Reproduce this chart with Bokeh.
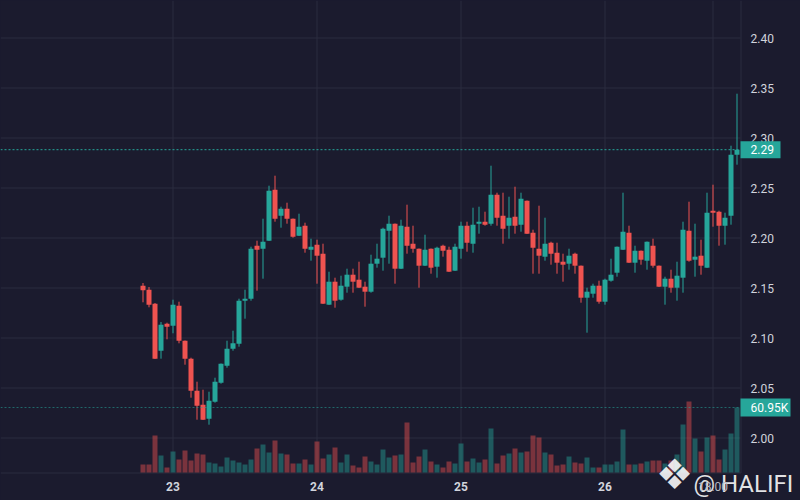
from bokeh.plotting import figure
from bokeh.models import Range1d, ColumnDataSource
from bokeh.core.properties import value
from bokeh.embed import file_html
from bokeh.resources import INLINE

# ---- data (hourly candles, hour 0 = day 23 00:00) ----
hours = list(range(-5, 95))

opens = [
    2.1523, 2.1483, 2.1343, 2.0873, 2.1143, 2.1123, 2.1323, 2.0973, 2.0793, 2.0473,
    2.0333, 2.0193, 2.0363, 2.0553, 2.0723, 2.0893, 2.0943, 2.1373, 2.1393, 2.1923,
    2.1893, 2.1973, 2.2483, 2.2223, 2.2293, 2.2193, 2.2023, 2.2123, 2.1883, 2.1933,
    2.1843, 2.1333, 2.1563, 2.1383, 2.1513, 2.1633, 2.1583, 2.1513, 2.1463, 2.1743,
    2.1803, 2.2073, 2.2143, 2.1693, 2.2113, 2.1943, 2.1893, 2.1723, 2.1893, 2.1713,
    2.1923, 2.1883, 2.1673, 2.1893, 2.2123, 2.1943, 2.2143, 2.2163, 2.2143, 2.2433,
    2.2223, 2.2123, 2.2213, 2.2133, 2.2373, 2.2053, 2.1893, 2.1813, 2.1953, 2.1853,
    2.1763, 2.1743, 2.1843, 2.1723, 2.1403, 2.1443, 2.1523, 2.1363, 2.1573, 2.1653,
    2.1883, 2.2053, 2.1753, 2.1873, 2.1773, 2.1923, 2.1723, 2.1513, 2.1593, 2.1503,
    2.1603, 2.2073, 2.1783, 2.1823, 2.1703, 2.2273, 2.2263, 2.2123, 2.2223, 2.2833,
]
closes = [
    2.1477, 2.1333, 2.0793, 2.1133, 2.1113, 2.1333, 2.0973, 2.0793, 2.0473, 2.0323,
    2.0183, 2.0373, 2.0563, 2.0743, 2.0893, 2.0947, 2.1373, 2.1393, 2.1893, 2.1883,
    2.1963, 2.2473, 2.2193, 2.2293, 2.2193, 2.2013, 2.2113, 2.1893, 2.1913, 2.1823,
    2.1343, 2.1563, 2.1373, 2.1523, 2.1633, 2.1563, 2.1503, 2.1463, 2.1743, 2.1793,
    2.2093, 2.2143, 2.1693, 2.2123, 2.1923, 2.1893, 2.1723, 2.1883, 2.1703, 2.1903,
    2.1873, 2.1663, 2.1913, 2.2123, 2.1953, 2.2133, 2.2163, 2.2133, 2.2433, 2.2203,
    2.2093, 2.2203, 2.2123, 2.2393, 2.2043, 2.1903, 2.1823, 2.1943, 2.1843, 2.1753,
    2.1733, 2.1823, 2.1723, 2.1403, 2.1463, 2.1523, 2.1363, 2.1583, 2.1633, 2.1913,
    2.2063, 2.1753, 2.1873, 2.1783, 2.1963, 2.1723, 2.1513, 2.1593, 2.1503, 2.1623,
    2.2083, 2.1773, 2.1813, 2.1723, 2.2253, 2.2253, 2.2123, 2.2203, 2.2833, 2.2883,
]
highs = [
    2.1550, 2.1510, 2.1350, 2.1160, 2.1153, 2.1383, 2.1363, 2.0975, 2.0803, 2.0563,
    2.0483, 2.0463, 2.0603, 2.0745, 2.0973, 2.1073, 2.1393, 2.1483, 2.1913, 2.1973,
    2.2193, 2.2523, 2.2623, 2.2313, 2.2353, 2.2195, 2.2243, 2.2153, 2.1993, 2.1983,
    2.1943, 2.1663, 2.1603, 2.1623, 2.1693, 2.1693, 2.1763, 2.1563, 2.1833, 2.1943,
    2.2103, 2.2223, 2.2145, 2.2183, 2.2333, 2.2123, 2.1895, 2.2033, 2.1895, 2.1913,
    2.1933, 2.1913, 2.1943, 2.2163, 2.2163, 2.2303, 2.2313, 2.2263, 2.2723, 2.2453,
    2.2453, 2.2413, 2.2513, 2.2453, 2.2375, 2.2083, 2.2323, 2.2203, 2.1963, 2.1953,
    2.1843, 2.1893, 2.1853, 2.1725, 2.1503, 2.1543, 2.1573, 2.1593, 2.1793, 2.1915,
    2.2453, 2.2123, 2.1923, 2.1875, 2.1965, 2.1993, 2.1725, 2.1613, 2.1683, 2.1763,
    2.2163, 2.2363, 2.2143, 2.1983, 2.2453, 2.2533, 2.2273, 2.2253, 2.2923, 2.3443,
]
lows = [
    2.1357, 2.1307, 2.0790, 2.0793, 2.0987, 2.1047, 2.0947, 2.0733, 2.0403, 2.0183,
    2.0180, 2.0133, 2.0353, 2.0543, 2.0703, 2.0873, 2.0913, 2.1193, 2.1373, 2.1473,
    2.1593, 2.1970, 2.2163, 2.2103, 2.2143, 2.2003, 2.2020, 2.1853, 2.1773, 2.1543,
    2.1340, 2.1330, 2.1303, 2.1373, 2.1453, 2.1453, 2.1500, 2.1313, 2.1453, 2.1703,
    2.1673, 2.1743, 2.1543, 2.1690, 2.1843, 2.1853, 2.1503, 2.1720, 2.1643, 2.1603,
    2.1813, 2.1660, 2.1670, 2.1793, 2.1863, 2.1853, 2.2043, 2.2123, 2.2123, 2.2123,
    2.1943, 2.1993, 2.2043, 2.2063, 2.2040, 2.1643, 2.1643, 2.1773, 2.1733, 2.1643,
    2.1563, 2.1683, 2.1643, 2.1353, 2.1053, 2.1403, 2.1343, 2.1333, 2.1563, 2.1613,
    2.1880, 2.1750, 2.1653, 2.1733, 2.1683, 2.1703, 2.1510, 2.1333, 2.1453, 2.1373,
    2.1453, 2.1763, 2.1613, 2.1633, 2.1700, 2.2113, 2.1923, 2.1933, 2.2133, 2.2733,
]
volumes_k = [
    7.50, 7.50, 34.69, 15.94, 4.69, 19.69, 12.19, 20.63, 11.25, 17.82,
    16.88, 9.38, 8.44, 5.63, 14.07, 11.25, 9.38, 7.50, 12.19, 22.50,
    26.26, 18.75, 30.01, 17.82, 16.88, 8.44, 8.44, 12.19, 7.50, 29.07,
    13.13, 16.88, 23.44, 9.38, 16.88, 6.56, 4.69, 15.00, 10.31, 7.50,
    21.57, 14.07, 15.94, 16.88, 46.89, 9.38, 15.00, 21.57, 10.31, 7.50,
    4.69, 10.31, 8.44, 27.19, 10.31, 13.13, 9.38, 12.19, 41.26, 8.44,
    15.94, 17.82, 22.50, 18.75, 19.69, 34.69, 32.82, 18.75, 16.88, 6.56,
    7.50, 15.00, 9.38, 8.44, 14.07, 4.69, 4.69, 7.50, 7.50, 10.31,
    40.32, 7.50, 7.50, 8.44, 10.31, 11.25, 11.25, 8.44, 11.25, 16.88,
    45.01, 66.58, 31.88, 19.69, 32.82, 34.69, 12.19, 21.57, 36.57, 60.95,
]
day_ticks = [0, 24, 48, 72]
day_labels = ["23", "24", "25", "26"]
time_ticks = [90]
time_labels = ["18:00"]
price_ticks = [2.00, 2.05, 2.10, 2.15, 2.20, 2.25, 2.30, 2.35, 2.40]
watermark = "@ HALIFI"
logo = "\u2756"

# ---- style / layout (page pixels; the figure sits at the page's top-left) ----
BG = "#1b1b2e"
GRID = "#2b2c3f"
UP = "#26a69a"
DOWN = "#ef5350"
TXT = "#d1d4dc"
FONT = "Roboto"
W, H, M = 800, 500, 0
PANE_RIGHT = 740      # page x of the price-scale border
PANE_BOTTOM = 472     # page y of the time-scale border
PX_PER_HOUR = 6.0
X0_PAGE = 172.5       # page x of hour 0
PX_PER_UNIT = 1000.0
Y240_PAGE = 37.5      # page y of price 2.40
VOL_PX = 65.0 / 60.95  # pixels per 1K volume

x_start = (M - X0_PAGE) / PX_PER_HOUR
x_end = (M + W - X0_PAGE) / PX_PER_HOUR
y_top = 2.40 + (Y240_PAGE - M) / PX_PER_UNIT
y_bot = 2.40 - (M + H - Y240_PAGE) / PX_PER_UNIT
v_bot = -(M + H - PANE_BOTTOM) / VOL_PX
v_top = (PANE_BOTTOM - M) / VOL_PX
pane_bottom_price = 2.40 - (PANE_BOTTOM - Y240_PAGE) / PX_PER_UNIT

colors = [UP if c >= o else DOWN for o, c in zip(opens, closes)]
src = ColumnDataSource(dict(
    x=hours, o=opens, h=highs, l=lows, c=closes,
    top=[max(o, c) for o, c in zip(opens, closes)],
    bottom=[min(o, c) for o, c in zip(opens, closes)],
    color=colors, vol=volumes_k,
))

p = figure(width=W, height=H,
           x_range=Range1d(x_start, x_end), y_range=Range1d(y_bot, y_top),
           x_axis_location=None, y_axis_location=None,
           output_backend="svg", toolbar_location=None,
           min_border=0, background_fill_color=BG, border_fill_color=BG,
           outline_line_color=None)
p.grid.visible = False
p.extra_y_ranges = {"vol": Range1d(v_bot, v_top), "py": Range1d(M + H, M)}
p.extra_x_ranges = {"px": Range1d(M, M + W)}

# grid lines (pane only)
gx = day_ticks + time_ticks
p.segment(x0=gx, x1=gx, y0=[pane_bottom_price] * len(gx), y1=[y_top] * len(gx),
          line_color=GRID, line_width=1)
p.segment(x0=[M] * len(price_ticks), x1=[PANE_RIGHT] * len(price_ticks),
          y0=price_ticks, y1=price_ticks, line_color=GRID, line_width=1,
          x_range_name="px")
# scale borders
p.segment(x0=[M], x1=[PANE_RIGHT + 0.5], y0=[PANE_BOTTOM + 0.5], y1=[PANE_BOTTOM + 0.5],
          line_color=GRID, line_width=1, x_range_name="px", y_range_name="py")
p.segment(x0=[PANE_RIGHT + 0.5], x1=[PANE_RIGHT + 0.5], y0=[M], y1=[PANE_BOTTOM + 0.5],
          line_color=GRID, line_width=1, x_range_name="px", y_range_name="py")

# volume
p.vbar(x="x", width=5 / PX_PER_HOUR, top="vol", bottom=0, fill_color="color",
       fill_alpha=0.45, line_color=None, y_range_name="vol", source=src)
# candles
p.segment(x0="x", y0="l", x1="x", y1="h", line_color="color", line_width=1, source=src)
p.vbar(x="x", width=5 / PX_PER_HOUR, top="top", bottom="bottom", fill_color="color",
       line_color=None, source=src)

# last price / last volume dashed lines
last_close = closes[-1]
last_vol = volumes_k[-1]
p.segment(x0=[M], x1=[PANE_RIGHT], y0=[last_close], y1=[last_close], line_color=UP,
          line_dash="2 2", line_width=1, x_range_name="px")
p.segment(x0=[M], x1=[PANE_RIGHT], y0=[last_vol], y1=[last_vol], line_color=UP,
          line_alpha=0.55, line_dash="2 2", line_width=1, x_range_name="px",
          y_range_name="vol")

# price scale labels
p.text(x=[PANE_RIGHT + 10] * len(price_ticks), y=price_ticks,
       text=[f"{t:.2f}" for t in price_ticks], x_range_name="px",
       text_align="left", text_baseline="middle", text_color=TXT,
       text_font=value(FONT), text_font_size="12px")

# tags
p.rect(x=[PANE_RIGHT + 20], y=[last_close], width=[40], height=[17],
       height_units="screen", fill_color=UP, line_color=None, x_range_name="px")
p.text(x=[PANE_RIGHT + 10], y=[last_close], text=[f"{last_close:.2f}"],
       x_range_name="px", text_align="left", text_baseline="middle",
       text_color="white", text_font=value(FONT), text_font_size="12px")
p.rect(x=[PANE_RIGHT + 25], y=[last_vol], width=[50], height=[18],
       height_units="screen", fill_color=UP, line_color=None, x_range_name="px",
       y_range_name="vol")
p.text(x=[PANE_RIGHT + 10], y=[last_vol], text=[f"{last_vol:.2f}K"],
       x_range_name="px", y_range_name="vol", text_align="left",
       text_baseline="middle", text_color="white", text_font=value(FONT),
       text_font_size="12px")

# time scale labels
p.text(x=day_ticks, y=[486] * len(day_ticks), text=day_labels, y_range_name="py",
       text_align="center", text_baseline="middle", text_color=TXT,
       text_font=value(FONT), text_font_style="bold", text_font_size="12px")

# watermark
p.text(x=[674], y=[474], text=[logo], x_range_name="px", y_range_name="py",
       text_align="center", text_baseline="middle", text_color="white",
       text_alpha=0.88, text_font=value("DejaVu Sans"), text_font_size="42px")
p.text(x=[693], y=[483], text=[watermark], x_range_name="px", y_range_name="py",
       text_align="left", text_baseline="alphabetic", text_color="white",
       text_alpha=0.88, text_font=value(FONT), text_font_size="24px")

p.text(x=time_ticks, y=[486] * len(time_ticks), text=time_labels, y_range_name="py",
       text_align="center", text_baseline="middle", text_color="#b8bac4",
       text_font=value(FONT), text_font_size="12px")

html = file_html(p, INLINE)
html = html.replace("</head>", "<style>body{background:%s;}</style></head>" % BG, 1)
open("out.html", "w").write(html)
